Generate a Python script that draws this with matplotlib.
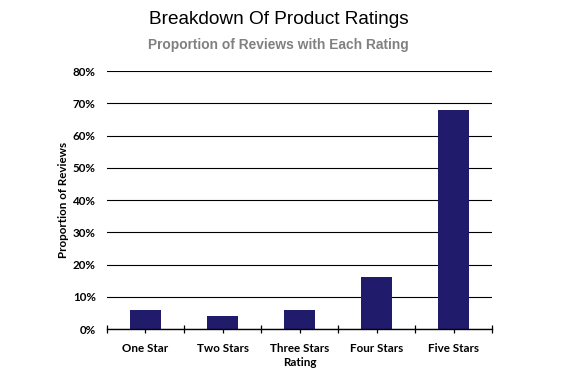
import matplotlib
matplotlib.use("Agg")
import matplotlib.pyplot as plt
from matplotlib.ticker import PercentFormatter, FixedLocator
import numpy as np

categories = ["One Star", "Two Stars", "Three Stars", "Four Stars", "Five Stars"]
proportions = [0.06, 0.04, 0.06, 0.16, 0.68]

fig = plt.figure(figsize=(5.69, 3.84), dpi=100)
ax = fig.add_axes([0.188, 0.143, 0.677, 0.672])

x = np.arange(len(categories))
ax.bar(x, proportions, width=0.4, color="#201b6b", zorder=3)

ax.set_xlim(-0.5, len(categories) - 0.5)
ax.set_ylim(0, 0.8)
ax.set_yticks(np.arange(0, 0.81, 0.1))
ax.yaxis.set_major_formatter(PercentFormatter(1.0, decimals=0))
ax.grid(axis="y", color="black", linewidth=0.8, zorder=0)

for s in ["top", "right", "left"]:
    ax.spines[s].set_visible(False)
ax.spines["bottom"].set_color("black")
ax.spines["bottom"].set_linewidth(1.0)
ax.spines["bottom"].set_zorder(4)

# x ticks: boundaries (major, inout) and centers (minor, out, labeled)
ax.xaxis.set_major_locator(FixedLocator(np.arange(-0.5, len(categories), 1.0)))
ax.xaxis.set_major_formatter(plt.NullFormatter())
ax.set_xticks(x, minor=True)
ax.set_xticklabels(categories, minor=True)
ax.tick_params(axis="x", which="major", direction="inout", length=6, width=0.9, color="black")
ax.tick_params(axis="x", which="minor", direction="out", length=3, width=0.9, color="black", pad=7)
ax.tick_params(axis="y", length=0, pad=8)

fs = 8.4
lab_font = dict(family=["Lato", "DejaVu Sans"], fontweight="bold", fontsize=fs)
for lbl in ax.get_xticklabels(minor=True) + ax.get_yticklabels():
    lbl.set_fontfamily(["Lato", "DejaVu Sans"])
    lbl.set_fontweight("bold")
    lbl.set_fontsize(fs)

ax.set_xlabel("Rating", labelpad=2, **lab_font)
ax.set_ylabel("Proportion of Reviews", labelpad=3, **lab_font)

fig.text(0.49, 0.948, "Breakdown Of Product Ratings", ha="center", va="center",
         fontsize=13.7, family=["Liberation Sans", "DejaVu Sans"], color="black")
fig.text(0.49, 0.884, "Proportion of Reviews with Each Rating", ha="center", va="center",
         fontsize=9.9, fontweight="bold", family=["Liberation Sans", "DejaVu Sans"], color="#808080")

fig.savefig("out.png", dpi=100)
